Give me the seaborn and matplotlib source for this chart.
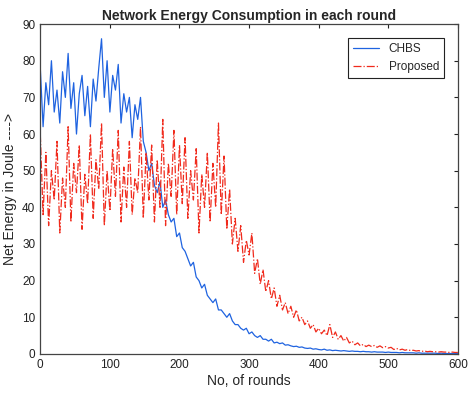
'''Network energy consumption per round: CHBS vs Proposed'''

import matplotlib
matplotlib.use('Agg')
import matplotlib.pyplot as plt
import seaborn as sns
import pandas as pd
import numpy as np

# rounds sampled every 4
rounds = np.arange(0, 601, 4)

chbs = [78, 62, 74, 68, 80, 66, 72, 63, 77, 70,
        82, 67, 74, 60, 71, 76, 65, 73, 62, 75,
        69, 78, 86, 70, 80, 66, 76, 72, 79, 63,
        71, 66, 70, 59, 68, 64, 70, 58, 55, 50,
        52, 46, 44, 47, 40, 42, 38, 36, 37, 32,
        33, 29, 28, 26, 24, 25, 21, 20, 18, 19,
        16, 15, 14, 15, 12, 12, 11, 10, 11, 9,
        8, 8, 7, 6.5, 7, 5.5, 6, 5, 4.5, 5,
        4, 4, 3.5, 4, 3, 3.2, 2.8, 3, 2.4, 2.5,
        2.2, 2, 2.1, 1.8, 1.9, 1.6, 1.5, 1.6, 1.3, 1.4,
        1.2, 1.1, 1.3, 1.0, 1.1, 0.9, 1.0, 0.9, 0.8, 0.9,
        0.8, 0.7, 0.8, 0.7, 0.7, 0.6, 0.7, 0.6, 0.6, 0.5,
        0.6, 0.5, 0.5, 0.5, 0.4, 0.5, 0.4, 0.4, 0.4, 0.3,
        0.4, 0.3, 0.3, 0.3, 0.3, 0.2, 0.3, 0.2, 0.2, 0.2,
        0.2, 0.2, 0.2, 0.1, 0.2, 0.1, 0.1, 0.1, 0.1, 0.1,
        0.1]

proposed = [60, 38, 55, 35, 50, 42, 58, 33, 48, 40,
            62, 36, 52, 44, 57, 34, 49, 41, 60, 37,
            53, 45, 63, 35, 50, 39, 56, 43, 61, 36,
            51, 40, 58, 38, 48, 44, 62, 37, 55, 42,
            57, 36, 53, 40, 64, 35, 52, 43, 61, 38,
            57, 41, 59, 37, 50, 42, 56, 33, 49, 40,
            55, 36, 52, 40, 63, 38, 54, 34, 45, 30,
            37, 28, 35, 25, 31, 27, 33, 22, 26, 19,
            23, 17, 20, 15, 18, 13, 16, 12, 14, 11,
            13, 10, 12, 9, 10, 8, 9, 7, 8, 6,
            7, 5.5, 6.5, 5, 8, 4.5, 6, 4, 5, 3.5,
            4.5, 3, 3.5, 2.5, 3, 2.2, 2.6, 2, 2.4, 2,
            2.3, 1.8, 2.2, 1.7, 2.0, 1.6, 1.8, 1.2, 1.5, 1.1,
            1.3, 1.0, 1.2, 0.9, 1.0, 0.8, 0.9, 0.7, 0.8, 0.6,
            0.7, 0.6, 0.6, 0.5, 0.6, 0.5, 0.5, 0.4, 0.5, 0.4,
            0.4]

x_ticks = [0, 100, 200, 300, 400, 500, 600]
y_ticks = [0, 10, 20, 30, 40, 50, 60, 70, 80, 90]

df = pd.DataFrame({'Round': rounds, 'CHBS': chbs, 'Proposed': proposed})

sns.set_style("white")
plt.rcParams['font.family'] = ['Liberation Sans', 'DejaVu Sans']

fig = plt.figure(figsize=(4.74, 3.95), dpi=100)
ax = fig.add_axes([0.085, 0.104, 0.881, 0.835])

sns.lineplot(data=df, x='Round', y='CHBS', ax=ax, color='#1f63e0',
             linewidth=0.9, label='CHBS')
sns.lineplot(data=df, x='Round', y='Proposed', ax=ax, color='#f02a1c',
             linewidth=0.9, linestyle='-.', label='Proposed')

ax.set_xlim(0, 600)
ax.set_ylim(0, 90)
ax.set_xticks(x_ticks)
ax.set_yticks(y_ticks)
ax.tick_params(direction='in', length=3, labelsize=8.5, colors='#222222',
               top=True, right=True)
for s in ax.spines.values():
    s.set_color('#444444')
    s.set_linewidth(0.9)

ax.set_xlabel('No, of rounds', fontsize=10, labelpad=2)
ax.set_ylabel('Net Energy in Joule ---->', fontsize=10, labelpad=4)
ax.set_title('Network Energy Consumption in each round', fontsize=10,
             fontweight='bold', pad=3)

leg = ax.legend(loc='upper right', fontsize=8.5, fancybox=False,
                framealpha=1, edgecolor='#222222', borderaxespad=1.2,
                handlelength=2.2)
leg.get_frame().set_linewidth(0.8)

plt.savefig('out.png', dpi=100)
